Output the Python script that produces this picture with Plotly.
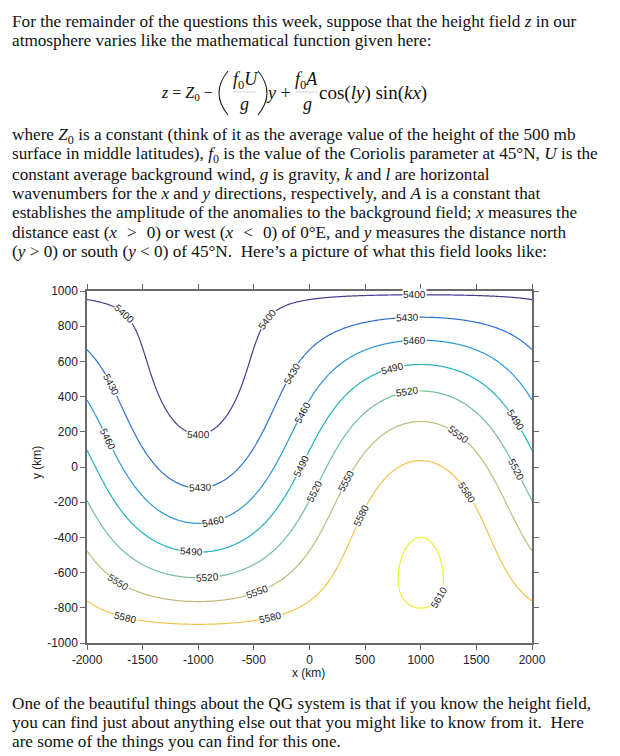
import math
import numpy as np
import plotly.graph_objects as go

# ---- data ----
x_ticks = [-2000, -1500, -1000, -500, 0, 500, 1000, 1500, 2000]
y_ticks = [-1000, -800, -600, -400, -200, 0, 200, 400, 600, 800, 1000]
levels = [5400, 5430, 5460, 5490, 5520, 5550, 5580, 5610]
level_colors = ["#443d95", "#2c6fd4", "#2a95d6", "#22b0bc",
                "#70bf98", "#c0bb78", "#f4c24c", "#f0ef2e"]

# parameters of the height field z = Z0 - (f0U/g) y + (f0A/g) cos(ly) sin(kx)
Z0 = 5500.0          # m
f0U_over_g = 0.1051  # m per km
f0A_over_g = 84.0    # m
wavelength_x = 4000.0  # km
wavelength_y = 4000.0  # km

# approximate spots (km) where each contour carries its label in the reference
label_levels = [5400, 5400, 5400, 5400, 5430, 5430, 5430, 5430, 5460, 5460, 5460, 5460,
                5490, 5490, 5490, 5490, 5520, 5520, 5520, 5520, 5550, 5550, 5550, 5550,
                5580, 5580, 5580, 5580, 5610]
label_x = [-1703, -400, -1002, 948, -1793, -175, -984, 885, -1820, -67, -867, 948,
           -85, -1056, 742, 1847, 22, -921, 885, 1847, -1721, -463, 319, 1335,
           -1658, -355, 454, 1416, 1155]
label_y = [847, 847, 199, 983, 466, 540, -108, 852, 153, 312, -301, 722,
           11, -477, 562, 267, -131, -619, 426, -17, -659, -710, -74, 182,
           -858, -847, -273, -142, -739]

W, H = 620, 756
L, R, T, B = 87, 532, 291, 643

k = 2 * np.pi / wavelength_x
l = 2 * np.pi / wavelength_y


def field(x, y):
    return Z0 - f0U_over_g * y + f0A_over_g * np.cos(l * y) * np.sin(k * x)


xg = np.linspace(-2000, 2000, 321)
yg = np.linspace(-1000, 1000, 241)
XX, YY = np.meshgrid(xg, yg)
ZZ = field(XX, YY)

fig = go.Figure()
for lev, col in zip(levels, level_colors):
    fig.add_trace(go.Contour(
        x=xg, y=yg, z=ZZ,
        autocontour=False,
        contours=dict(start=lev, end=lev, size=30, coloring="lines", showlabels=False),
        colorscale=[[0, col], [1, col]],
        showscale=False,
        line=dict(width=1.2),
        hoverinfo="skip",
    ))

axis_common = dict(showline=True, linecolor="#6a6a6a", linewidth=1.5, mirror="ticks",
                   ticks="outside", ticklen=5, tickcolor="#6a6a6a", tickwidth=1.2,
                   showgrid=False, zeroline=False, automargin=False,
                   tickfont=dict(family="Liberation Sans", size=12, color="#222"))

fig.update_layout(
    width=W, height=H, margin=dict(l=0, r=0, t=0, b=0, pad=0, autoexpand=False),
    paper_bgcolor="white", plot_bgcolor="white", showlegend=False,
    xaxis=dict(domain=[L / W, R / W], range=[-2000, 2000], tickvals=x_ticks,
               ticktext=[str(v) for v in x_ticks], **axis_common),
    yaxis=dict(domain=[1 - B / H, 1 - T / H], range=[-1000, 1000], tickvals=y_ticks,
               ticktext=[str(v) for v in y_ticks], **axis_common),
)


def px(x):
    return x / W


def py(y):
    return 1 - y / H


ann = []


def text(x, y, s, size=17.2, xanchor="left", family="Liberation Serif", color="#111", angle=0):
    ann.append(dict(x=px(x), y=py(y), xref="paper", yref="paper", text=s, showarrow=False,
                    xanchor=xanchor, yanchor="middle", align="left", textangle=angle,
                    font=dict(family=family, size=size, color=color)))


# ---- contour labels: snap each spot onto its contour and align with the line ----
sx = (R - L) / 4000.0
sy = (B - T) / 2000.0
for lev, x0, y0 in zip(label_levels, label_x, label_y):
    x, y = float(x0), float(y0)
    for _ in range(30):
        z = field(x, y)
        dzdx = f0A_over_g * math.cos(l * y) * k * math.cos(k * x)
        dzdy = -f0U_over_g - f0A_over_g * l * math.sin(l * y) * math.sin(k * x)
        gu, gv = dzdx / sx, dzdy / sy
        g2 = gu * gu + gv * gv
        x -= (z - lev) * gu / g2 / sx
        y -= (z - lev) * gv / g2 / sy
        x = min(max(x, -2000), 2000)
        y = min(max(y, -1000), 1000)
    dzdx = f0A_over_g * math.cos(l * y) * k * math.cos(k * x)
    dzdy = -f0U_over_g - f0A_over_g * l * math.sin(l * y) * math.sin(k * x)
    gu, gv = dzdx / sx, dzdy / sy
    theta = math.degrees(math.atan2(gu, -gv))
    ang = -theta
    while ang > 90:
        ang -= 180
    while ang <= -90:
        ang += 180
    ann.append(dict(x=x, y=y, xref="x", yref="y", text=str(lev), showarrow=False,
                    xanchor="center", yanchor="middle", textangle=ang,
                    bgcolor="white", borderpad=0,
                    font=dict(family="Liberation Sans", size=10, color="#222")))

NB = "\u00a0"
GT = "\u2002\u200a&gt;\u200a\u2002"
LT = "\u2002\u200a&lt;\u200a\u2002"
para1 = [
    "For the remainder of the questions this week, suppose that the height field <i>z</i> in our",
    "atmosphere varies like the mathematical function given here:",
]
para2 = [
    "where <i>Z</i><sub>0</sub> is a constant (think of it as the average value of the height of the 500 mb",
    "surface in middle latitudes), <i>f</i><sub>0</sub> is the value of the Coriolis parameter at 45°N, <i>U</i> is the",
    "constant average background wind, <i>g</i> is gravity, <i>k</i> and <i>l</i> are horizontal",
    "wavenumbers for the <i>x</i> and <i>y</i> directions, respectively, and <i>A</i> is a constant that",
    "establishes the amplitude of the anomalies to the background field; <i>x</i> measures the",
    "distance east (<i>x</i>" + GT + "0) or west (<i>x</i>" + LT + "0) of 0°E, and <i>y</i> measures the distance north",
    "(<i>y</i> &gt; 0) or south (<i>y</i> &lt; 0) of 45°N." + NB + " Here’s a picture of what this field looks like:",
]
para3 = [
    "One of the beautiful things about the QG system is that if you know the height field,",
    "you can find just about anything else out that you might like to know from it." + NB + " Here",
    "are some of the things you can find for this one.",
]
for i, s in enumerate(para1):
    text(10, 22 + 19 * i, s)
for i, s in enumerate(para2):
    text(10, 136 + 19.2 * i, s)
for i, s in enumerate(para3):
    text(10, 703 + 19 * i, s)

# equation
EQ = 18
text(187, 93, "<i>z</i> = <i>Z</i><sub>0</sub> −", size=16, xanchor="center")
text(245, 80, "<i>f</i><sub>0</sub><i>U</i>", size=EQ, xanchor="center")
text(244, 104, "<i>g</i>", size=EQ, xanchor="center")
text(278, 93, "<i>y</i> +", size=EQ, xanchor="center")
text(306, 80, "<i>f</i><sub>0</sub><i>A</i>", size=EQ, xanchor="center")
text(307, 104, "<i>g</i>", size=EQ, xanchor="center")
text(373, 93, "cos(<i>ly</i>) sin(<i>kx</i>)", size=19, xanchor="center")

# axis titles
text(308, 673, "x (km)", size=12, xanchor="center", family="Liberation Sans", color="#222")
text(37, 463, "y (km)", size=12, xanchor="center", family="Liberation Sans", color="#222", angle=-90)

fig.update_layout(annotations=ann)


def ppath(pts):
    (x0, y0), (cx, cy), (x1, y1) = pts
    return f"M {px(x0)},{py(y0)} Q {px(cx)},{py(cy)} {px(x1)},{py(y1)}"


fig.add_shape(type="path", xref="paper", yref="paper",
              path=ppath([(228, 71), (210, 93), (228, 115)]),
              line=dict(color="#222", width=1.1))
fig.add_shape(type="path", xref="paper", yref="paper",
              path=ppath([(258, 71), (276, 93), (258, 115)]),
              line=dict(color="#222", width=1.1))
fig.add_shape(type="line", xref="paper", yref="paper", x0=px(233), x1=px(256), y0=py(92), y1=py(92),
              line=dict(color="#bbb", width=0.6))
fig.add_shape(type="line", xref="paper", yref="paper", x0=px(295), x1=px(318), y0=py(92), y1=py(92),
              line=dict(color="#bbb", width=0.6))

fig.write_html("out.html")
